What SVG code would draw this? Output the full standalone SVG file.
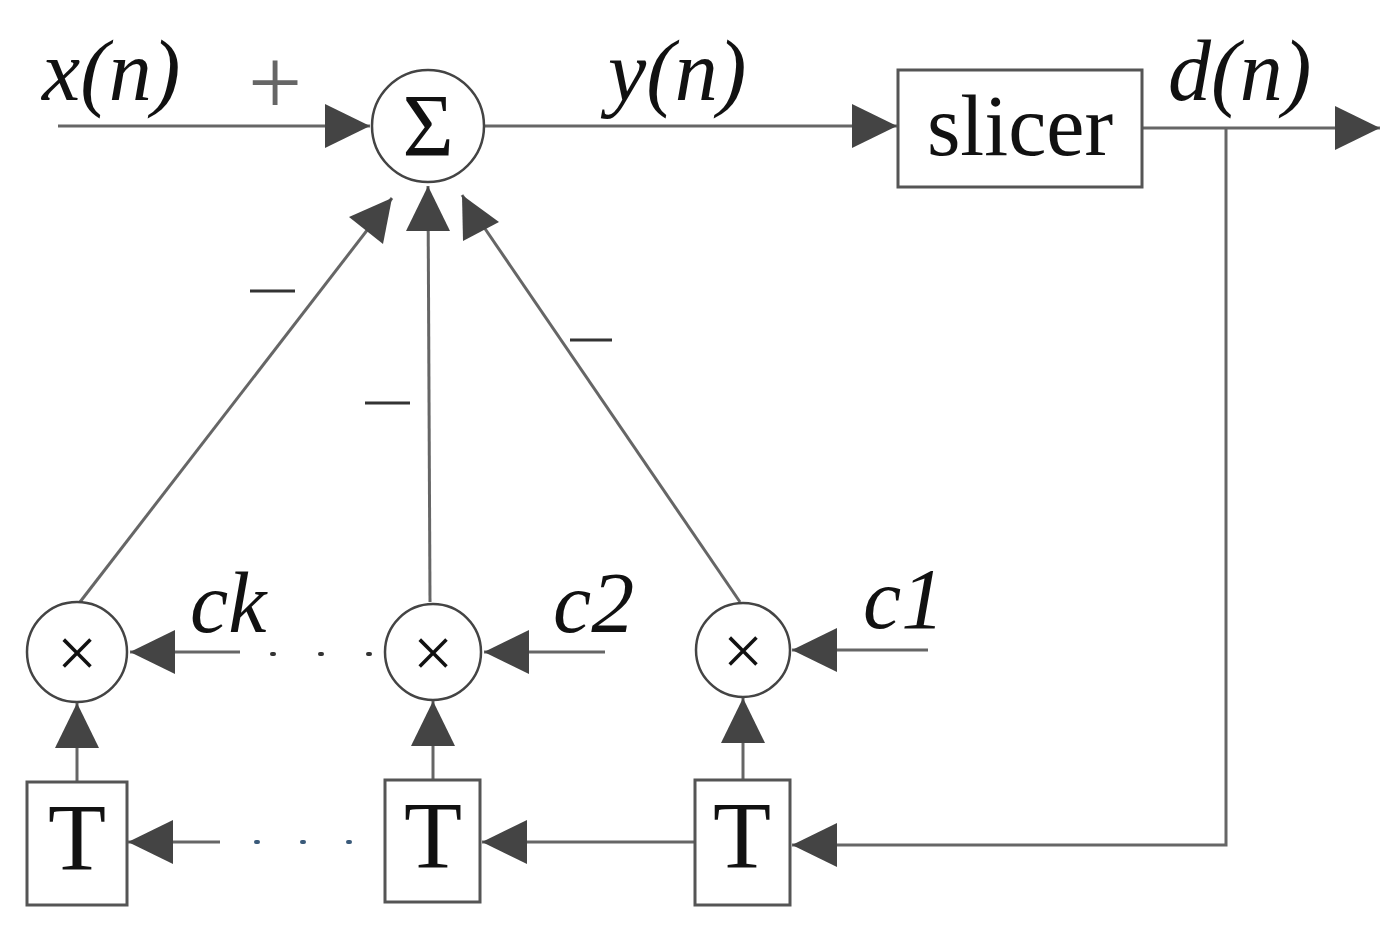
<svg xmlns="http://www.w3.org/2000/svg" width="1397" height="935" viewBox="0 0 1397 935">
<style>
.l{stroke:#666;stroke-width:3;fill:none}
.n{stroke:#444;stroke-width:2.5;fill:#fff}
.b{stroke:#555;stroke-width:3;fill:#fff}
.m{font-family:"Liberation Serif",serif;font-style:italic;font-size:86px;fill:#111}
.t{font-family:"Liberation Serif",serif;fill:#111;text-anchor:middle}
.d{stroke:#3a5a7a;stroke-width:4;stroke-dasharray:2 44;stroke-linecap:round}
</style>
<g id="connectors">
<line class="l" x1="58" y1="126" x2="370" y2="126"/>
<path d="M325,104L370,126L325,148z" fill="#444"/>
<line class="l" x1="485" y1="126" x2="897" y2="126"/>
<path d="M852,104L897,126L852,148z" fill="#444"/>
<line class="l" x1="1142" y1="128" x2="1380" y2="128"/>
<path d="M1335,106L1380,128L1335,150z" fill="#444"/>
<polyline class="l" points="1226,128 1226,845 792,845"/>
<path d="M837,823L792,845L837,867z" fill="#444"/>
<line class="l" x1="695" y1="842" x2="482" y2="842"/>
<path d="M527,820L482,842L527,864z" fill="#444"/>
<line class="l" x1="220" y1="842" x2="128" y2="842"/>
<path d="M173,820L128,842L173,864z" fill="#444"/>
<line class="d" x1="256" y1="842" x2="352" y2="842"/>
<line class="l" x1="240" y1="652" x2="130" y2="652"/>
<path d="M175,630L130,652L175,674z" fill="#444"/>
<line class="d" x1="272" y1="654" x2="370" y2="654" style="stroke:#333;stroke-dasharray:2 46"/>
<line class="l" x1="605" y1="652" x2="484" y2="652"/>
<path d="M529,630L484,652L529,674z" fill="#444"/>
<line class="l" x1="928" y1="650" x2="792" y2="650"/>
<path d="M837,628L792,650L837,672z" fill="#444"/>
<line class="l" x1="77" y1="782" x2="77" y2="703"/>
<path d="M55,748L77,703L99,748z" fill="#444"/>
<line class="l" x1="433" y1="780" x2="433" y2="701"/>
<path d="M411,746L433,701L455,746z" fill="#444"/>
<line class="l" x1="743" y1="780" x2="743" y2="698"/>
<path d="M721,743L743,698L765,743z" fill="#444"/>
<line class="l" x1="80" y1="602" x2="392" y2="198"/>
<path d="M383,244L392,198L349,217z" fill="#444"/>
<line class="l" x1="430" y1="602" x2="428" y2="186"/>
<path d="M406,231L428,186L450,231z" fill="#444"/>
<line class="l" x1="740" y1="602" x2="462" y2="195"/>
<path d="M499,222L462,195L463,241z" fill="#444"/>
</g>
<g id="labels">
<text class="m" x="42" y="100">x(n)</text>
<text class="t" x="275" y="114" font-size="96" style="fill:#666">+</text>
<text class="m" x="608" y="100">y(n)</text>
<text class="m" x="1168" y="100">d(n)</text>
<text class="m" x="190" y="632" font-size="62">ck</text>
<text class="m" x="553" y="632" font-size="62">c2</text>
<text class="m" x="863" y="628" font-size="62">c1</text>
<line class="l" x1="250" y1="291" x2="295" y2="291" style="stroke:#333"/>
<line class="l" x1="365" y1="403" x2="410" y2="403" style="stroke:#333"/>
<line class="l" x1="570" y1="340" x2="612" y2="340" style="stroke:#333"/>
</g>
<g id="sum"><circle class="n" cx="428" cy="126" r="56"/><text class="t" x="428" y="155" font-size="88">Σ</text></g>
<g id="slicer"><rect class="b" x="898" y="70" width="244" height="117"/><text class="t" x="1020" y="155" font-size="86">slicer</text></g>
<g id="mul1"><circle class="n" cx="77" cy="652" r="50"/><text class="t" x="77" y="677" font-size="72">×</text></g>
<g id="mul2"><circle class="n" cx="433" cy="652" r="48"/><text class="t" x="433" y="677" font-size="72">×</text></g>
<g id="mul3"><circle class="n" cx="743" cy="650" r="47"/><text class="t" x="743" y="675" font-size="72">×</text></g>
<g id="T1"><rect class="b" x="27" y="782" width="100" height="123"/><text class="t" x="77" y="870" font-size="95">T</text></g>
<g id="T2"><rect class="b" x="385" y="780" width="95" height="122"/><text class="t" x="433" y="868" font-size="95">T</text></g>
<g id="T3"><rect class="b" x="695" y="780" width="95" height="125"/><text class="t" x="742" y="868" font-size="95">T</text></g>
</svg>
